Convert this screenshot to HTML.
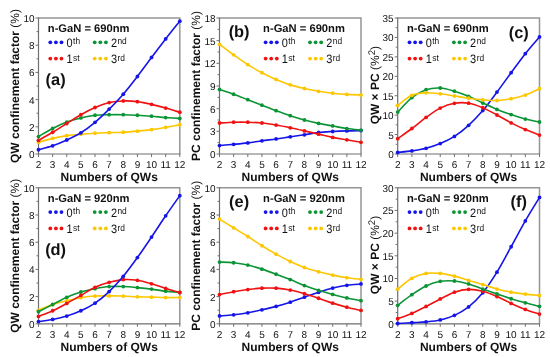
<!DOCTYPE html>
<html><head><meta charset="utf-8"><style>
html,body{margin:0;padding:0;background:#fff;}
body{width:550px;height:357px;overflow:hidden;}
svg{display:block;filter:blur(0.3px);}
text{font-family:"Liberation Sans",sans-serif;fill:#111111;text-rendering:geometricPrecision;}
</style></head><body>
<svg width="550" height="357" viewBox="0 0 550 357">
<rect width="550" height="357" fill="#fff"/>
<g><path d="M38.5,18H179.8V154" fill="none" stroke="#959595" stroke-width="1.5"/>
<path d="M38.5,17.4V154H180.4" fill="none" stroke="#707070" stroke-width="1.2"/>
<path d="M35.5,154H38.5M35.5,126.8H38.5M35.5,99.6H38.5M35.5,72.4H38.5M35.5,45.2H38.5M35.5,18H38.5M36.5,140.4H38.5M36.5,113.2H38.5M36.5,86H38.5M36.5,58.8H38.5M36.5,31.6H38.5M38.5,154V157M52.63,154V157M66.76,154V157M80.89,154V157M95.02,154V157M109.15,154V157M123.28,154V157M137.41,154V157M151.54,154V157M165.67,154V157M179.8,154V157" stroke="#707070" stroke-width="1" fill="none"/>
<text x="34.5" y="158" text-anchor="end" font-size="10">0</text>
<text x="34.5" y="130.8" text-anchor="end" font-size="10">2</text>
<text x="34.5" y="103.6" text-anchor="end" font-size="10">4</text>
<text x="34.5" y="76.4" text-anchor="end" font-size="10">6</text>
<text x="34.5" y="49.2" text-anchor="end" font-size="10">8</text>
<text x="34.5" y="22" text-anchor="end" font-size="10">10</text>
<text x="38.5" y="167.8" text-anchor="middle" font-size="10">2</text>
<text x="52.63" y="167.8" text-anchor="middle" font-size="10">3</text>
<text x="66.76" y="167.8" text-anchor="middle" font-size="10">4</text>
<text x="80.89" y="167.8" text-anchor="middle" font-size="10">5</text>
<text x="95.02" y="167.8" text-anchor="middle" font-size="10">6</text>
<text x="109.15" y="167.8" text-anchor="middle" font-size="10">7</text>
<text x="123.28" y="167.8" text-anchor="middle" font-size="10">8</text>
<text x="137.41" y="167.8" text-anchor="middle" font-size="10">9</text>
<text x="151.54" y="167.8" text-anchor="middle" font-size="10">10</text>
<text x="165.67" y="167.8" text-anchor="middle" font-size="10">11</text>
<text x="179.8" y="167.8" text-anchor="middle" font-size="10">12</text>
<text x="109.15" y="180.8" text-anchor="middle" font-size="12" font-weight="bold">Numbers of QWs</text>
<text transform="translate(19.3,86) rotate(-90)" text-anchor="middle" font-size="12"><tspan font-weight="bold">QW confinement factor </tspan><tspan>(%)</tspan></text>
<path d="M38.5,142.17 C40.86,141.53 47.92,139.45 52.63,138.36 C57.34,137.27 62.05,136.34 66.76,135.64 C71.47,134.94 76.18,134.55 80.89,134.14 C85.6,133.74 90.31,133.44 95.02,133.19 C99.73,132.94 104.44,132.81 109.15,132.65 C113.86,132.49 118.57,132.49 123.28,132.24 C127.99,131.99 132.7,131.58 137.41,131.15 C142.12,130.72 146.83,130.29 151.54,129.66 C156.25,129.02 160.96,128.16 165.67,127.34 C170.38,126.53 177.45,125.19 179.8,124.76" stroke="#fcc700" stroke-width="1.6" fill="none"/>
<circle cx="38.5" cy="142.17" r="1.9" fill="#fcc700"/>
<circle cx="52.63" cy="138.36" r="1.9" fill="#fcc700"/>
<circle cx="66.76" cy="135.64" r="1.9" fill="#fcc700"/>
<circle cx="80.89" cy="134.14" r="1.9" fill="#fcc700"/>
<circle cx="95.02" cy="133.19" r="1.9" fill="#fcc700"/>
<circle cx="109.15" cy="132.65" r="1.9" fill="#fcc700"/>
<circle cx="123.28" cy="132.24" r="1.9" fill="#fcc700"/>
<circle cx="137.41" cy="131.15" r="1.9" fill="#fcc700"/>
<circle cx="151.54" cy="129.66" r="1.9" fill="#fcc700"/>
<circle cx="165.67" cy="127.34" r="1.9" fill="#fcc700"/>
<circle cx="179.8" cy="124.76" r="1.9" fill="#fcc700"/>
<path d="M38.5,136.59 C40.86,135.23 47.92,130.86 52.63,128.43 C57.34,126.01 62.05,123.79 66.76,122.04 C71.47,120.29 76.18,119.09 80.89,117.96 C85.6,116.83 90.31,115.78 95.02,115.24 C99.73,114.7 104.44,114.79 109.15,114.7 C113.86,114.61 118.57,114.61 123.28,114.7 C127.99,114.79 132.7,114.99 137.41,115.24 C142.12,115.49 146.83,115.81 151.54,116.19 C156.25,116.58 160.96,117.17 165.67,117.55 C170.38,117.94 177.45,118.35 179.8,118.5" stroke="#0b9435" stroke-width="1.6" fill="none"/>
<circle cx="38.5" cy="136.59" r="1.9" fill="#0b9435"/>
<circle cx="52.63" cy="128.43" r="1.9" fill="#0b9435"/>
<circle cx="66.76" cy="122.04" r="1.9" fill="#0b9435"/>
<circle cx="80.89" cy="117.96" r="1.9" fill="#0b9435"/>
<circle cx="95.02" cy="115.24" r="1.9" fill="#0b9435"/>
<circle cx="109.15" cy="114.7" r="1.9" fill="#0b9435"/>
<circle cx="123.28" cy="114.7" r="1.9" fill="#0b9435"/>
<circle cx="137.41" cy="115.24" r="1.9" fill="#0b9435"/>
<circle cx="151.54" cy="116.19" r="1.9" fill="#0b9435"/>
<circle cx="165.67" cy="117.55" r="1.9" fill="#0b9435"/>
<circle cx="179.8" cy="118.5" r="1.9" fill="#0b9435"/>
<path d="M38.5,140.4 C40.86,139.04 47.92,135.05 52.63,132.24 C57.34,129.43 62.05,126.46 66.76,123.54 C71.47,120.61 76.18,117.37 80.89,114.7 C85.6,112.02 90.31,109.51 95.02,107.49 C99.73,105.47 104.44,103.68 109.15,102.59 C113.86,101.5 118.57,101.12 123.28,100.96 C127.99,100.8 132.7,101.07 137.41,101.64 C142.12,102.21 146.83,103.29 151.54,104.36 C156.25,105.43 160.96,106.72 165.67,108.03 C170.38,109.35 177.45,111.55 179.8,112.25" stroke="#f01212" stroke-width="1.6" fill="none"/>
<circle cx="38.5" cy="140.4" r="1.9" fill="#f01212"/>
<circle cx="52.63" cy="132.24" r="1.9" fill="#f01212"/>
<circle cx="66.76" cy="123.54" r="1.9" fill="#f01212"/>
<circle cx="80.89" cy="114.7" r="1.9" fill="#f01212"/>
<circle cx="95.02" cy="107.49" r="1.9" fill="#f01212"/>
<circle cx="109.15" cy="102.59" r="1.9" fill="#f01212"/>
<circle cx="123.28" cy="100.96" r="1.9" fill="#f01212"/>
<circle cx="137.41" cy="101.64" r="1.9" fill="#f01212"/>
<circle cx="151.54" cy="104.36" r="1.9" fill="#f01212"/>
<circle cx="165.67" cy="108.03" r="1.9" fill="#f01212"/>
<circle cx="179.8" cy="112.25" r="1.9" fill="#f01212"/>
<path d="M38.5,149.65 C40.86,149.01 47.92,147.45 52.63,145.84 C57.34,144.23 62.05,142.17 66.76,139.99 C71.47,137.82 76.18,135.73 80.89,132.78 C85.6,129.84 90.31,126.26 95.02,122.31 C99.73,118.37 104.44,113.81 109.15,109.12 C113.86,104.43 118.57,99.6 123.28,94.16 C127.99,88.72 132.7,82.6 137.41,76.48 C142.12,70.36 146.83,63.7 151.54,57.44 C156.25,51.18 160.96,45 165.67,38.94 C170.38,32.89 177.45,24.1 179.8,21.13" stroke="#1515e8" stroke-width="1.6" fill="none"/>
<circle cx="38.5" cy="149.65" r="1.9" fill="#1515e8"/>
<circle cx="52.63" cy="145.84" r="1.9" fill="#1515e8"/>
<circle cx="66.76" cy="139.99" r="1.9" fill="#1515e8"/>
<circle cx="80.89" cy="132.78" r="1.9" fill="#1515e8"/>
<circle cx="95.02" cy="122.31" r="1.9" fill="#1515e8"/>
<circle cx="109.15" cy="109.12" r="1.9" fill="#1515e8"/>
<circle cx="123.28" cy="94.16" r="1.9" fill="#1515e8"/>
<circle cx="137.41" cy="76.48" r="1.9" fill="#1515e8"/>
<circle cx="151.54" cy="57.44" r="1.9" fill="#1515e8"/>
<circle cx="165.67" cy="38.94" r="1.9" fill="#1515e8"/>
<circle cx="179.8" cy="21.13" r="1.9" fill="#1515e8"/>
<text x="47.8" y="32" font-size="11.2" font-weight="bold">n-GaN = 690nm</text>
<circle cx="50.3" cy="42.3" r="1.9" fill="#1515e8"/>
<circle cx="55.9" cy="42.3" r="1.9" fill="#1515e8"/>
<circle cx="61.5" cy="42.3" r="1.9" fill="#1515e8"/>
<text transform="translate(66.5,46.8) scale(0.9,1)" font-size="12.2">0<tspan font-size="9.3" dx="0.5" dy="-2.4">th</tspan></text>
<circle cx="94.7" cy="42.3" r="1.9" fill="#0b9435"/>
<circle cx="100.3" cy="42.3" r="1.9" fill="#0b9435"/>
<circle cx="105.9" cy="42.3" r="1.9" fill="#0b9435"/>
<text transform="translate(110.9,46.8) scale(0.9,1)" font-size="12.2">2<tspan font-size="9.3" dx="0.5" dy="-2.4">nd</tspan></text>
<circle cx="50.3" cy="58.6" r="1.9" fill="#f01212"/>
<circle cx="55.9" cy="58.6" r="1.9" fill="#f01212"/>
<circle cx="61.5" cy="58.6" r="1.9" fill="#f01212"/>
<text transform="translate(66.5,63.1) scale(0.9,1)" font-size="12.2">1<tspan font-size="9.3" dx="0.5" dy="-2.4">st</tspan></text>
<circle cx="94.7" cy="58.6" r="1.9" fill="#fcc700"/>
<circle cx="100.3" cy="58.6" r="1.9" fill="#fcc700"/>
<circle cx="105.9" cy="58.6" r="1.9" fill="#fcc700"/>
<text transform="translate(110.9,63.1) scale(0.9,1)" font-size="12.2">3<tspan font-size="9.3" dx="0.5" dy="-2.4">rd</tspan></text>
<text x="55.6" y="84.7" text-anchor="middle" font-size="16.4" font-weight="bold">(a)</text></g>
<g><path d="M219.5,18H361V154" fill="none" stroke="#959595" stroke-width="1.5"/>
<path d="M219.5,17.4V154H361.6" fill="none" stroke="#707070" stroke-width="1.2"/>
<path d="M216.5,154H219.5M216.5,131.33H219.5M216.5,108.67H219.5M216.5,86H219.5M216.5,63.33H219.5M216.5,40.67H219.5M216.5,18H219.5M217.5,142.67H219.5M217.5,120H219.5M217.5,97.33H219.5M217.5,74.67H219.5M217.5,52H219.5M217.5,29.33H219.5M219.5,154V157M233.65,154V157M247.8,154V157M261.95,154V157M276.1,154V157M290.25,154V157M304.4,154V157M318.55,154V157M332.7,154V157M346.85,154V157M361,154V157" stroke="#707070" stroke-width="1" fill="none"/>
<text x="215.5" y="158" text-anchor="end" font-size="10">0</text>
<text x="215.5" y="135.33" text-anchor="end" font-size="10">3</text>
<text x="215.5" y="112.67" text-anchor="end" font-size="10">6</text>
<text x="215.5" y="90" text-anchor="end" font-size="10">9</text>
<text x="215.5" y="67.33" text-anchor="end" font-size="10">12</text>
<text x="215.5" y="44.67" text-anchor="end" font-size="10">15</text>
<text x="215.5" y="22" text-anchor="end" font-size="10">18</text>
<text x="219.5" y="167.8" text-anchor="middle" font-size="10">2</text>
<text x="233.65" y="167.8" text-anchor="middle" font-size="10">3</text>
<text x="247.8" y="167.8" text-anchor="middle" font-size="10">4</text>
<text x="261.95" y="167.8" text-anchor="middle" font-size="10">5</text>
<text x="276.1" y="167.8" text-anchor="middle" font-size="10">6</text>
<text x="290.25" y="167.8" text-anchor="middle" font-size="10">7</text>
<text x="304.4" y="167.8" text-anchor="middle" font-size="10">8</text>
<text x="318.55" y="167.8" text-anchor="middle" font-size="10">9</text>
<text x="332.7" y="167.8" text-anchor="middle" font-size="10">10</text>
<text x="346.85" y="167.8" text-anchor="middle" font-size="10">11</text>
<text x="361" y="167.8" text-anchor="middle" font-size="10">12</text>
<text x="290.25" y="180.8" text-anchor="middle" font-size="12" font-weight="bold">Numbers of QWs</text>
<text transform="translate(200.3,86) rotate(-90)" text-anchor="middle" font-size="12"><tspan font-weight="bold">PC confinement factor </tspan><tspan>(%)</tspan></text>
<path d="M219.5,145.54 C221.86,145.34 228.93,144.77 233.65,144.33 C238.37,143.89 243.08,143.49 247.8,142.89 C252.52,142.3 257.23,141.43 261.95,140.78 C266.67,140.12 271.38,139.62 276.1,138.96 C280.82,138.31 285.53,137.54 290.25,136.85 C294.97,136.16 299.68,135.54 304.4,134.81 C309.12,134.08 313.83,133.02 318.55,132.47 C323.27,131.91 327.98,131.75 332.7,131.48 C337.42,131.22 342.13,131.03 346.85,130.88 C351.57,130.73 358.64,130.63 361,130.58" stroke="#1515e8" stroke-width="1.6" fill="none"/>
<circle cx="219.5" cy="145.54" r="1.9" fill="#1515e8"/>
<circle cx="233.65" cy="144.33" r="1.9" fill="#1515e8"/>
<circle cx="247.8" cy="142.89" r="1.9" fill="#1515e8"/>
<circle cx="261.95" cy="140.78" r="1.9" fill="#1515e8"/>
<circle cx="276.1" cy="138.96" r="1.9" fill="#1515e8"/>
<circle cx="290.25" cy="136.85" r="1.9" fill="#1515e8"/>
<circle cx="304.4" cy="134.81" r="1.9" fill="#1515e8"/>
<circle cx="318.55" cy="132.47" r="1.9" fill="#1515e8"/>
<circle cx="332.7" cy="131.48" r="1.9" fill="#1515e8"/>
<circle cx="346.85" cy="130.88" r="1.9" fill="#1515e8"/>
<circle cx="361" cy="130.58" r="1.9" fill="#1515e8"/>
<path d="M219.5,123.02 C221.86,122.88 228.93,122.33 233.65,122.19 C238.37,122.05 243.08,122.05 247.8,122.19 C252.52,122.33 257.23,122.54 261.95,123.02 C266.67,123.5 271.38,124.27 276.1,125.06 C280.82,125.86 285.53,126.81 290.25,127.78 C294.97,128.75 299.68,129.82 304.4,130.88 C309.12,131.94 313.83,133.05 318.55,134.13 C323.27,135.21 327.98,136.43 332.7,137.38 C337.42,138.32 342.13,138.98 346.85,139.8 C351.57,140.61 358.64,141.87 361,142.29" stroke="#f01212" stroke-width="1.6" fill="none"/>
<circle cx="219.5" cy="123.02" r="1.9" fill="#f01212"/>
<circle cx="233.65" cy="122.19" r="1.9" fill="#f01212"/>
<circle cx="247.8" cy="122.19" r="1.9" fill="#f01212"/>
<circle cx="261.95" cy="123.02" r="1.9" fill="#f01212"/>
<circle cx="276.1" cy="125.06" r="1.9" fill="#f01212"/>
<circle cx="290.25" cy="127.78" r="1.9" fill="#f01212"/>
<circle cx="304.4" cy="130.88" r="1.9" fill="#f01212"/>
<circle cx="318.55" cy="134.13" r="1.9" fill="#f01212"/>
<circle cx="332.7" cy="137.38" r="1.9" fill="#f01212"/>
<circle cx="346.85" cy="139.8" r="1.9" fill="#f01212"/>
<circle cx="361" cy="142.29" r="1.9" fill="#f01212"/>
<path d="M219.5,89.48 C221.86,90.27 228.93,92.54 233.65,94.24 C238.37,95.94 243.08,97.85 247.8,99.68 C252.52,101.5 257.23,103.37 261.95,105.19 C266.67,107.02 271.38,108.88 276.1,110.63 C280.82,112.38 285.53,114.13 290.25,115.69 C294.97,117.25 299.68,118.72 304.4,120 C309.12,121.28 313.83,122.41 318.55,123.4 C323.27,124.39 327.98,125.11 332.7,125.97 C337.42,126.83 342.13,127.85 346.85,128.54 C351.57,129.23 358.64,129.86 361,130.12" stroke="#0b9435" stroke-width="1.6" fill="none"/>
<circle cx="219.5" cy="89.48" r="1.9" fill="#0b9435"/>
<circle cx="233.65" cy="94.24" r="1.9" fill="#0b9435"/>
<circle cx="247.8" cy="99.68" r="1.9" fill="#0b9435"/>
<circle cx="261.95" cy="105.19" r="1.9" fill="#0b9435"/>
<circle cx="276.1" cy="110.63" r="1.9" fill="#0b9435"/>
<circle cx="290.25" cy="115.69" r="1.9" fill="#0b9435"/>
<circle cx="304.4" cy="120" r="1.9" fill="#0b9435"/>
<circle cx="318.55" cy="123.4" r="1.9" fill="#0b9435"/>
<circle cx="332.7" cy="125.97" r="1.9" fill="#0b9435"/>
<circle cx="346.85" cy="128.54" r="1.9" fill="#0b9435"/>
<circle cx="361" cy="130.12" r="1.9" fill="#0b9435"/>
<path d="M219.5,44.29 C221.86,46.06 228.93,51.47 233.65,54.87 C238.37,58.27 243.08,61.72 247.8,64.69 C252.52,67.67 257.23,70.25 261.95,72.7 C266.67,75.16 271.38,77.4 276.1,79.43 C280.82,81.45 285.53,83.36 290.25,84.87 C294.97,86.38 299.68,87.42 304.4,88.49 C309.12,89.56 313.83,90.51 318.55,91.29 C323.27,92.07 327.98,92.66 332.7,93.18 C337.42,93.69 342.13,94.08 346.85,94.39 C351.57,94.69 358.64,94.89 361,94.99" stroke="#fcc700" stroke-width="1.6" fill="none"/>
<circle cx="219.5" cy="44.29" r="1.9" fill="#fcc700"/>
<circle cx="233.65" cy="54.87" r="1.9" fill="#fcc700"/>
<circle cx="247.8" cy="64.69" r="1.9" fill="#fcc700"/>
<circle cx="261.95" cy="72.7" r="1.9" fill="#fcc700"/>
<circle cx="276.1" cy="79.43" r="1.9" fill="#fcc700"/>
<circle cx="290.25" cy="84.87" r="1.9" fill="#fcc700"/>
<circle cx="304.4" cy="88.49" r="1.9" fill="#fcc700"/>
<circle cx="318.55" cy="91.29" r="1.9" fill="#fcc700"/>
<circle cx="332.7" cy="93.18" r="1.9" fill="#fcc700"/>
<circle cx="346.85" cy="94.39" r="1.9" fill="#fcc700"/>
<circle cx="361" cy="94.99" r="1.9" fill="#fcc700"/>
<text x="263.1" y="32" font-size="11.2" font-weight="bold">n-GaN = 690nm</text>
<circle cx="265.6" cy="42.3" r="1.9" fill="#1515e8"/>
<circle cx="271.2" cy="42.3" r="1.9" fill="#1515e8"/>
<circle cx="276.8" cy="42.3" r="1.9" fill="#1515e8"/>
<text transform="translate(281.8,46.8) scale(0.9,1)" font-size="12.2">0<tspan font-size="9.3" dx="0.5" dy="-2.4">th</tspan></text>
<circle cx="310" cy="42.3" r="1.9" fill="#0b9435"/>
<circle cx="315.6" cy="42.3" r="1.9" fill="#0b9435"/>
<circle cx="321.2" cy="42.3" r="1.9" fill="#0b9435"/>
<text transform="translate(326.2,46.8) scale(0.9,1)" font-size="12.2">2<tspan font-size="9.3" dx="0.5" dy="-2.4">nd</tspan></text>
<circle cx="265.6" cy="58.6" r="1.9" fill="#f01212"/>
<circle cx="271.2" cy="58.6" r="1.9" fill="#f01212"/>
<circle cx="276.8" cy="58.6" r="1.9" fill="#f01212"/>
<text transform="translate(281.8,63.1) scale(0.9,1)" font-size="12.2">1<tspan font-size="9.3" dx="0.5" dy="-2.4">st</tspan></text>
<circle cx="310" cy="58.6" r="1.9" fill="#fcc700"/>
<circle cx="315.6" cy="58.6" r="1.9" fill="#fcc700"/>
<circle cx="321.2" cy="58.6" r="1.9" fill="#fcc700"/>
<text transform="translate(326.2,63.1) scale(0.9,1)" font-size="12.2">3<tspan font-size="9.3" dx="0.5" dy="-2.4">rd</tspan></text>
<text x="239.1" y="37.2" text-anchor="middle" font-size="16.4" font-weight="bold">(b)</text></g>
<g><path d="M397.7,18H539.5V154" fill="none" stroke="#959595" stroke-width="1.5"/>
<path d="M397.7,17.4V154H540.1" fill="none" stroke="#707070" stroke-width="1.2"/>
<path d="M394.7,154H397.7M394.7,134.57H397.7M394.7,115.14H397.7M394.7,95.71H397.7M394.7,76.29H397.7M394.7,56.86H397.7M394.7,37.43H397.7M394.7,18H397.7M395.7,144.29H397.7M395.7,124.86H397.7M395.7,105.43H397.7M395.7,86H397.7M395.7,66.57H397.7M395.7,47.14H397.7M395.7,27.71H397.7M397.7,154V157M411.88,154V157M426.06,154V157M440.24,154V157M454.42,154V157M468.6,154V157M482.78,154V157M496.96,154V157M511.14,154V157M525.32,154V157M539.5,154V157" stroke="#707070" stroke-width="1" fill="none"/>
<text x="393.7" y="158" text-anchor="end" font-size="10">0</text>
<text x="393.7" y="138.57" text-anchor="end" font-size="10">5</text>
<text x="393.7" y="119.14" text-anchor="end" font-size="10">10</text>
<text x="393.7" y="99.71" text-anchor="end" font-size="10">15</text>
<text x="393.7" y="80.29" text-anchor="end" font-size="10">20</text>
<text x="393.7" y="60.86" text-anchor="end" font-size="10">25</text>
<text x="393.7" y="41.43" text-anchor="end" font-size="10">30</text>
<text x="393.7" y="22" text-anchor="end" font-size="10">35</text>
<text x="397.7" y="167.8" text-anchor="middle" font-size="10">2</text>
<text x="411.88" y="167.8" text-anchor="middle" font-size="10">3</text>
<text x="426.06" y="167.8" text-anchor="middle" font-size="10">4</text>
<text x="440.24" y="167.8" text-anchor="middle" font-size="10">5</text>
<text x="454.42" y="167.8" text-anchor="middle" font-size="10">6</text>
<text x="468.6" y="167.8" text-anchor="middle" font-size="10">7</text>
<text x="482.78" y="167.8" text-anchor="middle" font-size="10">8</text>
<text x="496.96" y="167.8" text-anchor="middle" font-size="10">9</text>
<text x="511.14" y="167.8" text-anchor="middle" font-size="10">10</text>
<text x="525.32" y="167.8" text-anchor="middle" font-size="10">11</text>
<text x="539.5" y="167.8" text-anchor="middle" font-size="10">12</text>
<text x="468.6" y="180.8" text-anchor="middle" font-size="12" font-weight="bold">Numbers of QWs</text>
<text transform="translate(378.5,85.2) rotate(-90)" text-anchor="middle" font-size="12"><tspan font-weight="bold">QW × PC </tspan><tspan>(%</tspan><tspan font-size="9.6" dy="-3.6">2</tspan><tspan dy="3.6">)</tspan></text>
<path d="M397.7,152.41 C400.06,152.15 407.15,151.58 411.88,150.89 C416.61,150.2 421.33,149.51 426.06,148.29 C430.79,147.07 435.51,145.57 440.24,143.59 C444.97,141.6 449.69,139.44 454.42,136.4 C459.15,133.35 463.87,129.62 468.6,125.32 C473.33,121.02 478.05,116.13 482.78,110.6 C487.51,105.06 492.23,98.41 496.96,92.1 C501.69,85.79 506.41,79.11 511.14,72.71 C515.87,66.31 520.59,59.67 525.32,53.71 C530.05,47.75 537.14,39.72 539.5,36.92" stroke="#1515e8" stroke-width="1.6" fill="none"/>
<circle cx="397.7" cy="152.41" r="1.9" fill="#1515e8"/>
<circle cx="411.88" cy="150.89" r="1.9" fill="#1515e8"/>
<circle cx="426.06" cy="148.29" r="1.9" fill="#1515e8"/>
<circle cx="440.24" cy="143.59" r="1.9" fill="#1515e8"/>
<circle cx="454.42" cy="136.4" r="1.9" fill="#1515e8"/>
<circle cx="468.6" cy="125.32" r="1.9" fill="#1515e8"/>
<circle cx="482.78" cy="110.6" r="1.9" fill="#1515e8"/>
<circle cx="496.96" cy="92.1" r="1.9" fill="#1515e8"/>
<circle cx="511.14" cy="72.71" r="1.9" fill="#1515e8"/>
<circle cx="525.32" cy="53.71" r="1.9" fill="#1515e8"/>
<circle cx="539.5" cy="36.92" r="1.9" fill="#1515e8"/>
<path d="M397.7,138.69 C400.06,136.99 407.15,132.06 411.88,128.51 C416.61,124.96 421.33,120.8 426.06,117.4 C430.79,114 435.51,110.46 440.24,108.11 C444.97,105.76 449.69,104.11 454.42,103.29 C459.15,102.48 463.87,102.48 468.6,103.21 C473.33,103.95 478.05,105.76 482.78,107.72 C487.51,109.68 492.23,112.46 496.96,114.99 C501.69,117.52 506.41,120.48 511.14,122.91 C515.87,125.35 520.59,127.56 525.32,129.6 C530.05,131.63 537.14,134.2 539.5,135.12" stroke="#f01212" stroke-width="1.6" fill="none"/>
<circle cx="397.7" cy="138.69" r="1.9" fill="#f01212"/>
<circle cx="411.88" cy="128.51" r="1.9" fill="#f01212"/>
<circle cx="426.06" cy="117.4" r="1.9" fill="#f01212"/>
<circle cx="440.24" cy="108.11" r="1.9" fill="#f01212"/>
<circle cx="454.42" cy="103.29" r="1.9" fill="#f01212"/>
<circle cx="468.6" cy="103.21" r="1.9" fill="#f01212"/>
<circle cx="482.78" cy="107.72" r="1.9" fill="#f01212"/>
<circle cx="496.96" cy="114.99" r="1.9" fill="#f01212"/>
<circle cx="511.14" cy="122.91" r="1.9" fill="#f01212"/>
<circle cx="525.32" cy="129.6" r="1.9" fill="#f01212"/>
<circle cx="539.5" cy="135.12" r="1.9" fill="#f01212"/>
<path d="M397.7,112.11 C400.06,109.7 407.15,101.39 411.88,97.66 C416.61,93.92 421.33,91.3 426.06,89.69 C430.79,88.09 435.51,87.77 440.24,88.02 C444.97,88.27 449.69,89.82 454.42,91.21 C459.15,92.59 463.87,94.37 468.6,96.34 C473.33,98.3 478.05,100.84 482.78,103.02 C487.51,105.2 492.23,107.46 496.96,109.39 C501.69,111.32 506.41,112.99 511.14,114.6 C515.87,116.2 520.59,117.79 525.32,119.03 C530.05,120.27 537.14,121.52 539.5,122.02" stroke="#0b9435" stroke-width="1.6" fill="none"/>
<circle cx="397.7" cy="112.11" r="1.9" fill="#0b9435"/>
<circle cx="411.88" cy="97.66" r="1.9" fill="#0b9435"/>
<circle cx="426.06" cy="89.69" r="1.9" fill="#0b9435"/>
<circle cx="440.24" cy="88.02" r="1.9" fill="#0b9435"/>
<circle cx="454.42" cy="91.21" r="1.9" fill="#0b9435"/>
<circle cx="468.6" cy="96.34" r="1.9" fill="#0b9435"/>
<circle cx="482.78" cy="103.02" r="1.9" fill="#0b9435"/>
<circle cx="496.96" cy="109.39" r="1.9" fill="#0b9435"/>
<circle cx="511.14" cy="114.6" r="1.9" fill="#0b9435"/>
<circle cx="525.32" cy="119.03" r="1.9" fill="#0b9435"/>
<circle cx="539.5" cy="122.02" r="1.9" fill="#0b9435"/>
<path d="M397.7,105.47 C400.06,103.78 407.15,97.44 411.88,95.33 C416.61,93.21 421.33,93.05 426.06,92.8 C430.79,92.55 435.51,93.28 440.24,93.81 C444.97,94.34 449.69,95.25 454.42,95.99 C459.15,96.72 463.87,97.61 468.6,98.24 C473.33,98.87 478.05,99.42 482.78,99.79 C487.51,100.17 492.23,100.68 496.96,100.49 C501.69,100.31 506.41,99.61 511.14,98.71 C515.87,97.81 520.59,96.76 525.32,95.09 C530.05,93.43 537.14,89.78 539.5,88.72" stroke="#fcc700" stroke-width="1.6" fill="none"/>
<circle cx="397.7" cy="105.47" r="1.9" fill="#fcc700"/>
<circle cx="411.88" cy="95.33" r="1.9" fill="#fcc700"/>
<circle cx="426.06" cy="92.8" r="1.9" fill="#fcc700"/>
<circle cx="440.24" cy="93.81" r="1.9" fill="#fcc700"/>
<circle cx="454.42" cy="95.99" r="1.9" fill="#fcc700"/>
<circle cx="468.6" cy="98.24" r="1.9" fill="#fcc700"/>
<circle cx="482.78" cy="99.79" r="1.9" fill="#fcc700"/>
<circle cx="496.96" cy="100.49" r="1.9" fill="#fcc700"/>
<circle cx="511.14" cy="98.71" r="1.9" fill="#fcc700"/>
<circle cx="525.32" cy="95.09" r="1.9" fill="#fcc700"/>
<circle cx="539.5" cy="88.72" r="1.9" fill="#fcc700"/>
<text x="407" y="32" font-size="11.2" font-weight="bold">n-GaN = 690nm</text>
<circle cx="409.5" cy="42.3" r="1.9" fill="#1515e8"/>
<circle cx="415.1" cy="42.3" r="1.9" fill="#1515e8"/>
<circle cx="420.7" cy="42.3" r="1.9" fill="#1515e8"/>
<text transform="translate(425.7,46.8) scale(0.9,1)" font-size="12.2">0<tspan font-size="9.3" dx="0.5" dy="-2.4">th</tspan></text>
<circle cx="453.9" cy="42.3" r="1.9" fill="#0b9435"/>
<circle cx="459.5" cy="42.3" r="1.9" fill="#0b9435"/>
<circle cx="465.1" cy="42.3" r="1.9" fill="#0b9435"/>
<text transform="translate(470.1,46.8) scale(0.9,1)" font-size="12.2">2<tspan font-size="9.3" dx="0.5" dy="-2.4">nd</tspan></text>
<circle cx="409.5" cy="58.6" r="1.9" fill="#f01212"/>
<circle cx="415.1" cy="58.6" r="1.9" fill="#f01212"/>
<circle cx="420.7" cy="58.6" r="1.9" fill="#f01212"/>
<text transform="translate(425.7,63.1) scale(0.9,1)" font-size="12.2">1<tspan font-size="9.3" dx="0.5" dy="-2.4">st</tspan></text>
<circle cx="453.9" cy="58.6" r="1.9" fill="#fcc700"/>
<circle cx="459.5" cy="58.6" r="1.9" fill="#fcc700"/>
<circle cx="465.1" cy="58.6" r="1.9" fill="#fcc700"/>
<text transform="translate(470.1,63.1) scale(0.9,1)" font-size="12.2">3<tspan font-size="9.3" dx="0.5" dy="-2.4">rd</tspan></text>
<text x="518.7" y="37.5" text-anchor="middle" font-size="16.4" font-weight="bold">(c)</text></g>
<g><path d="M38.5,187.8H179.8V323.8" fill="none" stroke="#959595" stroke-width="1.5"/>
<path d="M38.5,187.2V323.8H180.4" fill="none" stroke="#707070" stroke-width="1.2"/>
<path d="M35.5,323.8H38.5M35.5,296.6H38.5M35.5,269.4H38.5M35.5,242.2H38.5M35.5,215H38.5M35.5,187.8H38.5M36.5,310.2H38.5M36.5,283H38.5M36.5,255.8H38.5M36.5,228.6H38.5M36.5,201.4H38.5M38.5,323.8V326.8M52.63,323.8V326.8M66.76,323.8V326.8M80.89,323.8V326.8M95.02,323.8V326.8M109.15,323.8V326.8M123.28,323.8V326.8M137.41,323.8V326.8M151.54,323.8V326.8M165.67,323.8V326.8M179.8,323.8V326.8" stroke="#707070" stroke-width="1" fill="none"/>
<text x="34.5" y="327.8" text-anchor="end" font-size="10">0</text>
<text x="34.5" y="300.6" text-anchor="end" font-size="10">2</text>
<text x="34.5" y="273.4" text-anchor="end" font-size="10">4</text>
<text x="34.5" y="246.2" text-anchor="end" font-size="10">6</text>
<text x="34.5" y="219" text-anchor="end" font-size="10">8</text>
<text x="34.5" y="191.8" text-anchor="end" font-size="10">10</text>
<text x="38.5" y="337.6" text-anchor="middle" font-size="10">2</text>
<text x="52.63" y="337.6" text-anchor="middle" font-size="10">3</text>
<text x="66.76" y="337.6" text-anchor="middle" font-size="10">4</text>
<text x="80.89" y="337.6" text-anchor="middle" font-size="10">5</text>
<text x="95.02" y="337.6" text-anchor="middle" font-size="10">6</text>
<text x="109.15" y="337.6" text-anchor="middle" font-size="10">7</text>
<text x="123.28" y="337.6" text-anchor="middle" font-size="10">8</text>
<text x="137.41" y="337.6" text-anchor="middle" font-size="10">9</text>
<text x="151.54" y="337.6" text-anchor="middle" font-size="10">10</text>
<text x="165.67" y="337.6" text-anchor="middle" font-size="10">11</text>
<text x="179.8" y="337.6" text-anchor="middle" font-size="10">12</text>
<text x="109.15" y="350.6" text-anchor="middle" font-size="12" font-weight="bold">Numbers of QWs</text>
<text transform="translate(19.3,255.8) rotate(-90)" text-anchor="middle" font-size="12"><tspan font-weight="bold">QW confinement factor </tspan><tspan>(%)</tspan></text>
<path d="M38.5,310.2 C40.86,309.27 47.92,306.21 52.63,304.62 C57.34,303.04 62.05,301.84 66.76,300.68 C71.47,299.52 76.18,298.46 80.89,297.69 C85.6,296.92 90.31,296.35 95.02,296.06 C99.73,295.76 104.44,295.92 109.15,295.92 C113.86,295.92 118.57,295.9 123.28,296.06 C127.99,296.21 132.7,296.69 137.41,296.87 C142.12,297.05 146.83,297.03 151.54,297.14 C156.25,297.26 160.96,297.48 165.67,297.55 C170.38,297.62 177.45,297.55 179.8,297.55" stroke="#fcc700" stroke-width="1.6" fill="none"/>
<circle cx="38.5" cy="310.2" r="1.9" fill="#fcc700"/>
<circle cx="52.63" cy="304.62" r="1.9" fill="#fcc700"/>
<circle cx="66.76" cy="300.68" r="1.9" fill="#fcc700"/>
<circle cx="80.89" cy="297.69" r="1.9" fill="#fcc700"/>
<circle cx="95.02" cy="296.06" r="1.9" fill="#fcc700"/>
<circle cx="109.15" cy="295.92" r="1.9" fill="#fcc700"/>
<circle cx="123.28" cy="296.06" r="1.9" fill="#fcc700"/>
<circle cx="137.41" cy="296.87" r="1.9" fill="#fcc700"/>
<circle cx="151.54" cy="297.14" r="1.9" fill="#fcc700"/>
<circle cx="165.67" cy="297.55" r="1.9" fill="#fcc700"/>
<circle cx="179.8" cy="297.55" r="1.9" fill="#fcc700"/>
<path d="M38.5,311.7 C40.86,310.49 47.92,306.89 52.63,304.49 C57.34,302.09 62.05,299.37 66.76,297.28 C71.47,295.19 76.18,293.4 80.89,291.98 C85.6,290.55 90.31,289.62 95.02,288.71 C99.73,287.81 104.44,286.9 109.15,286.54 C113.86,286.17 118.57,286.35 123.28,286.54 C127.99,286.72 132.7,287.19 137.41,287.62 C142.12,288.05 146.83,288.53 151.54,289.12 C156.25,289.71 160.96,290.59 165.67,291.16 C170.38,291.73 177.45,292.29 179.8,292.52" stroke="#0b9435" stroke-width="1.6" fill="none"/>
<circle cx="38.5" cy="311.7" r="1.9" fill="#0b9435"/>
<circle cx="52.63" cy="304.49" r="1.9" fill="#0b9435"/>
<circle cx="66.76" cy="297.28" r="1.9" fill="#0b9435"/>
<circle cx="80.89" cy="291.98" r="1.9" fill="#0b9435"/>
<circle cx="95.02" cy="288.71" r="1.9" fill="#0b9435"/>
<circle cx="109.15" cy="286.54" r="1.9" fill="#0b9435"/>
<circle cx="123.28" cy="286.54" r="1.9" fill="#0b9435"/>
<circle cx="137.41" cy="287.62" r="1.9" fill="#0b9435"/>
<circle cx="151.54" cy="289.12" r="1.9" fill="#0b9435"/>
<circle cx="165.67" cy="291.16" r="1.9" fill="#0b9435"/>
<circle cx="179.8" cy="292.52" r="1.9" fill="#0b9435"/>
<path d="M38.5,316.46 C40.86,315.5 47.92,312.92 52.63,310.74 C57.34,308.57 62.05,305.96 66.76,303.4 C71.47,300.84 76.18,298.05 80.89,295.38 C85.6,292.7 90.31,289.53 95.02,287.35 C99.73,285.18 104.44,283.61 109.15,282.32 C113.86,281.03 118.57,279.94 123.28,279.6 C127.99,279.26 132.7,279.58 137.41,280.28 C142.12,280.98 146.83,282.46 151.54,283.82 C156.25,285.18 160.96,286.99 165.67,288.44 C170.38,289.89 177.45,291.84 179.8,292.52" stroke="#f01212" stroke-width="1.6" fill="none"/>
<circle cx="38.5" cy="316.46" r="1.9" fill="#f01212"/>
<circle cx="52.63" cy="310.74" r="1.9" fill="#f01212"/>
<circle cx="66.76" cy="303.4" r="1.9" fill="#f01212"/>
<circle cx="80.89" cy="295.38" r="1.9" fill="#f01212"/>
<circle cx="95.02" cy="287.35" r="1.9" fill="#f01212"/>
<circle cx="109.15" cy="282.32" r="1.9" fill="#f01212"/>
<circle cx="123.28" cy="279.6" r="1.9" fill="#f01212"/>
<circle cx="137.41" cy="280.28" r="1.9" fill="#f01212"/>
<circle cx="151.54" cy="283.82" r="1.9" fill="#f01212"/>
<circle cx="165.67" cy="288.44" r="1.9" fill="#f01212"/>
<circle cx="179.8" cy="292.52" r="1.9" fill="#f01212"/>
<path d="M38.5,321.62 C40.86,321.26 47.92,320.38 52.63,319.45 C57.34,318.52 62.05,317.5 66.76,316.05 C71.47,314.6 76.18,312.9 80.89,310.74 C85.6,308.59 90.31,306.32 95.02,303.13 C99.73,299.93 104.44,296.03 109.15,291.57 C113.86,287.1 118.57,282 123.28,276.34 C127.99,270.67 132.7,264.12 137.41,257.57 C142.12,251.02 146.83,243.99 151.54,237.03 C156.25,230.07 160.96,222.71 165.67,215.82 C170.38,208.93 177.45,199.04 179.8,195.69" stroke="#1515e8" stroke-width="1.6" fill="none"/>
<circle cx="38.5" cy="321.62" r="1.9" fill="#1515e8"/>
<circle cx="52.63" cy="319.45" r="1.9" fill="#1515e8"/>
<circle cx="66.76" cy="316.05" r="1.9" fill="#1515e8"/>
<circle cx="80.89" cy="310.74" r="1.9" fill="#1515e8"/>
<circle cx="95.02" cy="303.13" r="1.9" fill="#1515e8"/>
<circle cx="109.15" cy="291.57" r="1.9" fill="#1515e8"/>
<circle cx="123.28" cy="276.34" r="1.9" fill="#1515e8"/>
<circle cx="137.41" cy="257.57" r="1.9" fill="#1515e8"/>
<circle cx="151.54" cy="237.03" r="1.9" fill="#1515e8"/>
<circle cx="165.67" cy="215.82" r="1.9" fill="#1515e8"/>
<circle cx="179.8" cy="195.69" r="1.9" fill="#1515e8"/>
<text x="47.8" y="201.8" font-size="11.2" font-weight="bold">n-GaN = 920nm</text>
<circle cx="50.3" cy="212.1" r="1.9" fill="#1515e8"/>
<circle cx="55.9" cy="212.1" r="1.9" fill="#1515e8"/>
<circle cx="61.5" cy="212.1" r="1.9" fill="#1515e8"/>
<text transform="translate(66.5,216.6) scale(0.9,1)" font-size="12.2">0<tspan font-size="9.3" dx="0.5" dy="-2.4">th</tspan></text>
<circle cx="94.7" cy="212.1" r="1.9" fill="#0b9435"/>
<circle cx="100.3" cy="212.1" r="1.9" fill="#0b9435"/>
<circle cx="105.9" cy="212.1" r="1.9" fill="#0b9435"/>
<text transform="translate(110.9,216.6) scale(0.9,1)" font-size="12.2">2<tspan font-size="9.3" dx="0.5" dy="-2.4">nd</tspan></text>
<circle cx="50.3" cy="228.4" r="1.9" fill="#f01212"/>
<circle cx="55.9" cy="228.4" r="1.9" fill="#f01212"/>
<circle cx="61.5" cy="228.4" r="1.9" fill="#f01212"/>
<text transform="translate(66.5,232.9) scale(0.9,1)" font-size="12.2">1<tspan font-size="9.3" dx="0.5" dy="-2.4">st</tspan></text>
<circle cx="94.7" cy="228.4" r="1.9" fill="#fcc700"/>
<circle cx="100.3" cy="228.4" r="1.9" fill="#fcc700"/>
<circle cx="105.9" cy="228.4" r="1.9" fill="#fcc700"/>
<text transform="translate(110.9,232.9) scale(0.9,1)" font-size="12.2">3<tspan font-size="9.3" dx="0.5" dy="-2.4">rd</tspan></text>
<text x="55.6" y="254.5" text-anchor="middle" font-size="16.4" font-weight="bold">(d)</text></g>
<g><path d="M219.5,187.8H361V323.8" fill="none" stroke="#959595" stroke-width="1.5"/>
<path d="M219.5,187.2V323.8H361.6" fill="none" stroke="#707070" stroke-width="1.2"/>
<path d="M216.5,323.8H219.5M216.5,296.6H219.5M216.5,269.4H219.5M216.5,242.2H219.5M216.5,215H219.5M216.5,187.8H219.5M217.5,310.2H219.5M217.5,283H219.5M217.5,255.8H219.5M217.5,228.6H219.5M217.5,201.4H219.5M219.5,323.8V326.8M233.65,323.8V326.8M247.8,323.8V326.8M261.95,323.8V326.8M276.1,323.8V326.8M290.25,323.8V326.8M304.4,323.8V326.8M318.55,323.8V326.8M332.7,323.8V326.8M346.85,323.8V326.8M361,323.8V326.8" stroke="#707070" stroke-width="1" fill="none"/>
<text x="215.5" y="327.8" text-anchor="end" font-size="10">0</text>
<text x="215.5" y="300.6" text-anchor="end" font-size="10">2</text>
<text x="215.5" y="273.4" text-anchor="end" font-size="10">4</text>
<text x="215.5" y="246.2" text-anchor="end" font-size="10">6</text>
<text x="215.5" y="219" text-anchor="end" font-size="10">8</text>
<text x="215.5" y="191.8" text-anchor="end" font-size="10">10</text>
<text x="219.5" y="337.6" text-anchor="middle" font-size="10">2</text>
<text x="233.65" y="337.6" text-anchor="middle" font-size="10">3</text>
<text x="247.8" y="337.6" text-anchor="middle" font-size="10">4</text>
<text x="261.95" y="337.6" text-anchor="middle" font-size="10">5</text>
<text x="276.1" y="337.6" text-anchor="middle" font-size="10">6</text>
<text x="290.25" y="337.6" text-anchor="middle" font-size="10">7</text>
<text x="304.4" y="337.6" text-anchor="middle" font-size="10">8</text>
<text x="318.55" y="337.6" text-anchor="middle" font-size="10">9</text>
<text x="332.7" y="337.6" text-anchor="middle" font-size="10">10</text>
<text x="346.85" y="337.6" text-anchor="middle" font-size="10">11</text>
<text x="361" y="337.6" text-anchor="middle" font-size="10">12</text>
<text x="290.25" y="350.6" text-anchor="middle" font-size="12" font-weight="bold">Numbers of QWs</text>
<text transform="translate(200.3,255.8) rotate(-90)" text-anchor="middle" font-size="12"><tspan font-weight="bold">PC confinement factor </tspan><tspan>(%)</tspan></text>
<path d="M219.5,315.91 C221.86,315.73 228.93,315.35 233.65,314.82 C238.37,314.3 243.08,313.62 247.8,312.78 C252.52,311.95 257.23,310.86 261.95,309.79 C266.67,308.73 271.38,307.66 276.1,306.39 C280.82,305.12 285.53,303.72 290.25,302.18 C294.97,300.63 299.68,298.8 304.4,297.14 C309.12,295.49 313.83,293.77 318.55,292.25 C323.27,290.73 327.98,289.19 332.7,288.03 C337.42,286.88 342.13,285.99 346.85,285.31 C351.57,284.63 358.64,284.18 361,283.95" stroke="#1515e8" stroke-width="1.6" fill="none"/>
<circle cx="219.5" cy="315.91" r="1.9" fill="#1515e8"/>
<circle cx="233.65" cy="314.82" r="1.9" fill="#1515e8"/>
<circle cx="247.8" cy="312.78" r="1.9" fill="#1515e8"/>
<circle cx="261.95" cy="309.79" r="1.9" fill="#1515e8"/>
<circle cx="276.1" cy="306.39" r="1.9" fill="#1515e8"/>
<circle cx="290.25" cy="302.18" r="1.9" fill="#1515e8"/>
<circle cx="304.4" cy="297.14" r="1.9" fill="#1515e8"/>
<circle cx="318.55" cy="292.25" r="1.9" fill="#1515e8"/>
<circle cx="332.7" cy="288.03" r="1.9" fill="#1515e8"/>
<circle cx="346.85" cy="285.31" r="1.9" fill="#1515e8"/>
<circle cx="361" cy="283.95" r="1.9" fill="#1515e8"/>
<path d="M219.5,294.56 C221.86,294.08 228.93,292.54 233.65,291.7 C238.37,290.87 243.08,290.12 247.8,289.53 C252.52,288.94 257.23,288.39 261.95,288.17 C266.67,287.94 271.38,287.85 276.1,288.17 C280.82,288.49 285.53,289.14 290.25,290.07 C294.97,291 299.68,292.38 304.4,293.74 C309.12,295.1 313.83,296.67 318.55,298.23 C323.27,299.8 327.98,301.63 332.7,303.13 C337.42,304.62 342.13,305.98 346.85,307.21 C351.57,308.43 358.64,309.93 361,310.47" stroke="#f01212" stroke-width="1.6" fill="none"/>
<circle cx="219.5" cy="294.56" r="1.9" fill="#f01212"/>
<circle cx="233.65" cy="291.7" r="1.9" fill="#f01212"/>
<circle cx="247.8" cy="289.53" r="1.9" fill="#f01212"/>
<circle cx="261.95" cy="288.17" r="1.9" fill="#f01212"/>
<circle cx="276.1" cy="288.17" r="1.9" fill="#f01212"/>
<circle cx="290.25" cy="290.07" r="1.9" fill="#f01212"/>
<circle cx="304.4" cy="293.74" r="1.9" fill="#f01212"/>
<circle cx="318.55" cy="298.23" r="1.9" fill="#f01212"/>
<circle cx="332.7" cy="303.13" r="1.9" fill="#f01212"/>
<circle cx="346.85" cy="307.21" r="1.9" fill="#f01212"/>
<circle cx="361" cy="310.47" r="1.9" fill="#f01212"/>
<path d="M219.5,262.06 C221.86,262.17 228.93,262.24 233.65,262.74 C238.37,263.23 243.08,263.98 247.8,265.05 C252.52,266.11 257.23,267.61 261.95,269.13 C266.67,270.65 271.38,272.41 276.1,274.16 C280.82,275.91 285.53,277.7 290.25,279.6 C294.97,281.5 299.68,283.79 304.4,285.58 C309.12,287.37 313.83,288.87 318.55,290.34 C323.27,291.82 327.98,293.15 332.7,294.42 C337.42,295.69 342.13,296.92 346.85,297.96 C351.57,299 358.64,300.23 361,300.68" stroke="#0b9435" stroke-width="1.6" fill="none"/>
<circle cx="219.5" cy="262.06" r="1.9" fill="#0b9435"/>
<circle cx="233.65" cy="262.74" r="1.9" fill="#0b9435"/>
<circle cx="247.8" cy="265.05" r="1.9" fill="#0b9435"/>
<circle cx="261.95" cy="269.13" r="1.9" fill="#0b9435"/>
<circle cx="276.1" cy="274.16" r="1.9" fill="#0b9435"/>
<circle cx="290.25" cy="279.6" r="1.9" fill="#0b9435"/>
<circle cx="304.4" cy="285.58" r="1.9" fill="#0b9435"/>
<circle cx="318.55" cy="290.34" r="1.9" fill="#0b9435"/>
<circle cx="332.7" cy="294.42" r="1.9" fill="#0b9435"/>
<circle cx="346.85" cy="297.96" r="1.9" fill="#0b9435"/>
<circle cx="361" cy="300.68" r="1.9" fill="#0b9435"/>
<path d="M219.5,219.08 C221.86,220.53 228.93,224.88 233.65,227.78 C238.37,230.69 243.08,233.5 247.8,236.49 C252.52,239.48 257.23,242.79 261.95,245.74 C266.67,248.68 271.38,251.54 276.1,254.17 C280.82,256.8 285.53,259.29 290.25,261.51 C294.97,263.73 299.68,265.77 304.4,267.5 C309.12,269.22 313.83,270.58 318.55,271.85 C323.27,273.12 327.98,274.14 332.7,275.11 C337.42,276.09 342.13,276.99 346.85,277.7 C351.57,278.4 358.64,279.06 361,279.33" stroke="#fcc700" stroke-width="1.6" fill="none"/>
<circle cx="219.5" cy="219.08" r="1.9" fill="#fcc700"/>
<circle cx="233.65" cy="227.78" r="1.9" fill="#fcc700"/>
<circle cx="247.8" cy="236.49" r="1.9" fill="#fcc700"/>
<circle cx="261.95" cy="245.74" r="1.9" fill="#fcc700"/>
<circle cx="276.1" cy="254.17" r="1.9" fill="#fcc700"/>
<circle cx="290.25" cy="261.51" r="1.9" fill="#fcc700"/>
<circle cx="304.4" cy="267.5" r="1.9" fill="#fcc700"/>
<circle cx="318.55" cy="271.85" r="1.9" fill="#fcc700"/>
<circle cx="332.7" cy="275.11" r="1.9" fill="#fcc700"/>
<circle cx="346.85" cy="277.7" r="1.9" fill="#fcc700"/>
<circle cx="361" cy="279.33" r="1.9" fill="#fcc700"/>
<text x="263.1" y="201.8" font-size="11.2" font-weight="bold">n-GaN = 920nm</text>
<circle cx="265.6" cy="212.1" r="1.9" fill="#1515e8"/>
<circle cx="271.2" cy="212.1" r="1.9" fill="#1515e8"/>
<circle cx="276.8" cy="212.1" r="1.9" fill="#1515e8"/>
<text transform="translate(281.8,216.6) scale(0.9,1)" font-size="12.2">0<tspan font-size="9.3" dx="0.5" dy="-2.4">th</tspan></text>
<circle cx="310" cy="212.1" r="1.9" fill="#0b9435"/>
<circle cx="315.6" cy="212.1" r="1.9" fill="#0b9435"/>
<circle cx="321.2" cy="212.1" r="1.9" fill="#0b9435"/>
<text transform="translate(326.2,216.6) scale(0.9,1)" font-size="12.2">2<tspan font-size="9.3" dx="0.5" dy="-2.4">nd</tspan></text>
<circle cx="265.6" cy="228.4" r="1.9" fill="#f01212"/>
<circle cx="271.2" cy="228.4" r="1.9" fill="#f01212"/>
<circle cx="276.8" cy="228.4" r="1.9" fill="#f01212"/>
<text transform="translate(281.8,232.9) scale(0.9,1)" font-size="12.2">1<tspan font-size="9.3" dx="0.5" dy="-2.4">st</tspan></text>
<circle cx="310" cy="228.4" r="1.9" fill="#fcc700"/>
<circle cx="315.6" cy="228.4" r="1.9" fill="#fcc700"/>
<circle cx="321.2" cy="228.4" r="1.9" fill="#fcc700"/>
<text transform="translate(326.2,232.9) scale(0.9,1)" font-size="12.2">3<tspan font-size="9.3" dx="0.5" dy="-2.4">rd</tspan></text>
<text x="239.1" y="207" text-anchor="middle" font-size="16.4" font-weight="bold">(e)</text></g>
<g><path d="M397.7,187.8H539.5V323.8" fill="none" stroke="#959595" stroke-width="1.5"/>
<path d="M397.7,187.2V323.8H540.1" fill="none" stroke="#707070" stroke-width="1.2"/>
<path d="M394.7,323.8H397.7M394.7,301.13H397.7M394.7,278.47H397.7M394.7,255.8H397.7M394.7,233.13H397.7M394.7,210.47H397.7M394.7,187.8H397.7M395.7,312.47H397.7M395.7,289.8H397.7M395.7,267.13H397.7M395.7,244.47H397.7M395.7,221.8H397.7M395.7,199.13H397.7M397.7,323.8V326.8M411.88,323.8V326.8M426.06,323.8V326.8M440.24,323.8V326.8M454.42,323.8V326.8M468.6,323.8V326.8M482.78,323.8V326.8M496.96,323.8V326.8M511.14,323.8V326.8M525.32,323.8V326.8M539.5,323.8V326.8" stroke="#707070" stroke-width="1" fill="none"/>
<text x="393.7" y="327.8" text-anchor="end" font-size="10">0</text>
<text x="393.7" y="305.13" text-anchor="end" font-size="10">5</text>
<text x="393.7" y="282.47" text-anchor="end" font-size="10">10</text>
<text x="393.7" y="259.8" text-anchor="end" font-size="10">15</text>
<text x="393.7" y="237.13" text-anchor="end" font-size="10">20</text>
<text x="393.7" y="214.47" text-anchor="end" font-size="10">25</text>
<text x="393.7" y="191.8" text-anchor="end" font-size="10">30</text>
<text x="397.7" y="337.6" text-anchor="middle" font-size="10">2</text>
<text x="411.88" y="337.6" text-anchor="middle" font-size="10">3</text>
<text x="426.06" y="337.6" text-anchor="middle" font-size="10">4</text>
<text x="440.24" y="337.6" text-anchor="middle" font-size="10">5</text>
<text x="454.42" y="337.6" text-anchor="middle" font-size="10">6</text>
<text x="468.6" y="337.6" text-anchor="middle" font-size="10">7</text>
<text x="482.78" y="337.6" text-anchor="middle" font-size="10">8</text>
<text x="496.96" y="337.6" text-anchor="middle" font-size="10">9</text>
<text x="511.14" y="337.6" text-anchor="middle" font-size="10">10</text>
<text x="525.32" y="337.6" text-anchor="middle" font-size="10">11</text>
<text x="539.5" y="337.6" text-anchor="middle" font-size="10">12</text>
<text x="468.6" y="350.6" text-anchor="middle" font-size="12" font-weight="bold">Numbers of QWs</text>
<text transform="translate(378.5,255) rotate(-90)" text-anchor="middle" font-size="12"><tspan font-weight="bold">QW × PC </tspan><tspan>(%</tspan><tspan font-size="9.6" dy="-3.6">2</tspan><tspan dy="3.6">)</tspan></text>
<path d="M397.7,323.48 C400.06,323.35 407.15,322.94 411.88,322.67 C416.61,322.39 421.33,322.3 426.06,321.85 C430.79,321.4 435.51,321.03 440.24,319.95 C444.97,318.87 449.69,317.54 454.42,315.37 C459.15,313.2 463.87,310.71 468.6,306.94 C473.33,303.17 478.05,298.54 482.78,292.75 C487.51,286.95 492.23,279.83 496.96,272.17 C501.69,264.5 506.41,255.28 511.14,246.73 C515.87,238.19 520.59,229.11 525.32,220.89 C530.05,212.68 537.14,201.36 539.5,197.46" stroke="#1515e8" stroke-width="1.6" fill="none"/>
<circle cx="397.7" cy="323.48" r="1.9" fill="#1515e8"/>
<circle cx="411.88" cy="322.67" r="1.9" fill="#1515e8"/>
<circle cx="426.06" cy="321.85" r="1.9" fill="#1515e8"/>
<circle cx="440.24" cy="319.95" r="1.9" fill="#1515e8"/>
<circle cx="454.42" cy="315.37" r="1.9" fill="#1515e8"/>
<circle cx="468.6" cy="306.94" r="1.9" fill="#1515e8"/>
<circle cx="482.78" cy="292.75" r="1.9" fill="#1515e8"/>
<circle cx="496.96" cy="272.17" r="1.9" fill="#1515e8"/>
<circle cx="511.14" cy="246.73" r="1.9" fill="#1515e8"/>
<circle cx="525.32" cy="220.89" r="1.9" fill="#1515e8"/>
<circle cx="539.5" cy="197.46" r="1.9" fill="#1515e8"/>
<path d="M397.7,318.63 C400.06,317.77 407.15,315.5 411.88,313.46 C416.61,311.43 421.33,308.86 426.06,306.44 C430.79,304.02 435.51,301.34 440.24,298.96 C444.97,296.58 449.69,293.76 454.42,292.16 C459.15,290.56 463.87,289.5 468.6,289.35 C473.33,289.2 478.05,290.06 482.78,291.25 C487.51,292.44 492.23,294.48 496.96,296.51 C501.69,298.53 506.41,301.25 511.14,303.4 C515.87,305.55 520.59,307.61 525.32,309.38 C530.05,311.16 537.14,313.28 539.5,314.05" stroke="#f01212" stroke-width="1.6" fill="none"/>
<circle cx="397.7" cy="318.63" r="1.9" fill="#f01212"/>
<circle cx="411.88" cy="313.46" r="1.9" fill="#f01212"/>
<circle cx="426.06" cy="306.44" r="1.9" fill="#f01212"/>
<circle cx="440.24" cy="298.96" r="1.9" fill="#f01212"/>
<circle cx="454.42" cy="292.16" r="1.9" fill="#f01212"/>
<circle cx="468.6" cy="289.35" r="1.9" fill="#f01212"/>
<circle cx="482.78" cy="291.25" r="1.9" fill="#f01212"/>
<circle cx="496.96" cy="296.51" r="1.9" fill="#f01212"/>
<circle cx="511.14" cy="303.4" r="1.9" fill="#f01212"/>
<circle cx="525.32" cy="309.38" r="1.9" fill="#f01212"/>
<circle cx="539.5" cy="314.05" r="1.9" fill="#f01212"/>
<path d="M397.7,305.35 C400.06,303.57 407.15,297.92 411.88,294.7 C416.61,291.47 421.33,288.22 426.06,285.99 C430.79,283.76 435.51,282.15 440.24,281.32 C444.97,280.49 449.69,280.57 454.42,281.01 C459.15,281.44 463.87,282.57 468.6,283.91 C473.33,285.24 478.05,287.37 482.78,289.03 C487.51,290.69 492.23,292.26 496.96,293.88 C501.69,295.5 506.41,297.24 511.14,298.73 C515.87,300.22 520.59,301.54 525.32,302.81 C530.05,304.08 537.14,305.76 539.5,306.35" stroke="#0b9435" stroke-width="1.6" fill="none"/>
<circle cx="397.7" cy="305.35" r="1.9" fill="#0b9435"/>
<circle cx="411.88" cy="294.7" r="1.9" fill="#0b9435"/>
<circle cx="426.06" cy="285.99" r="1.9" fill="#0b9435"/>
<circle cx="440.24" cy="281.32" r="1.9" fill="#0b9435"/>
<circle cx="454.42" cy="281.01" r="1.9" fill="#0b9435"/>
<circle cx="468.6" cy="283.91" r="1.9" fill="#0b9435"/>
<circle cx="482.78" cy="289.03" r="1.9" fill="#0b9435"/>
<circle cx="496.96" cy="293.88" r="1.9" fill="#0b9435"/>
<circle cx="511.14" cy="298.73" r="1.9" fill="#0b9435"/>
<circle cx="525.32" cy="302.81" r="1.9" fill="#0b9435"/>
<circle cx="539.5" cy="306.35" r="1.9" fill="#0b9435"/>
<path d="M397.7,289.12 C400.06,287.31 407.15,280.91 411.88,278.29 C416.61,275.66 421.33,274.21 426.06,273.39 C430.79,272.57 435.51,272.93 440.24,273.39 C444.97,273.85 449.69,274.98 454.42,276.15 C459.15,277.33 463.87,279.02 468.6,280.42 C473.33,281.81 478.05,283.11 482.78,284.54 C487.51,285.98 492.23,287.76 496.96,289.03 C501.69,290.3 506.41,291.31 511.14,292.16 C515.87,293 520.59,293.56 525.32,294.11 C530.05,294.65 537.14,295.2 539.5,295.42" stroke="#fcc700" stroke-width="1.6" fill="none"/>
<circle cx="397.7" cy="289.12" r="1.9" fill="#fcc700"/>
<circle cx="411.88" cy="278.29" r="1.9" fill="#fcc700"/>
<circle cx="426.06" cy="273.39" r="1.9" fill="#fcc700"/>
<circle cx="440.24" cy="273.39" r="1.9" fill="#fcc700"/>
<circle cx="454.42" cy="276.15" r="1.9" fill="#fcc700"/>
<circle cx="468.6" cy="280.42" r="1.9" fill="#fcc700"/>
<circle cx="482.78" cy="284.54" r="1.9" fill="#fcc700"/>
<circle cx="496.96" cy="289.03" r="1.9" fill="#fcc700"/>
<circle cx="511.14" cy="292.16" r="1.9" fill="#fcc700"/>
<circle cx="525.32" cy="294.11" r="1.9" fill="#fcc700"/>
<circle cx="539.5" cy="295.42" r="1.9" fill="#fcc700"/>
<text x="407" y="201.8" font-size="11.2" font-weight="bold">n-GaN = 920nm</text>
<circle cx="409.5" cy="212.1" r="1.9" fill="#1515e8"/>
<circle cx="415.1" cy="212.1" r="1.9" fill="#1515e8"/>
<circle cx="420.7" cy="212.1" r="1.9" fill="#1515e8"/>
<text transform="translate(425.7,216.6) scale(0.9,1)" font-size="12.2">0<tspan font-size="9.3" dx="0.5" dy="-2.4">th</tspan></text>
<circle cx="453.9" cy="212.1" r="1.9" fill="#0b9435"/>
<circle cx="459.5" cy="212.1" r="1.9" fill="#0b9435"/>
<circle cx="465.1" cy="212.1" r="1.9" fill="#0b9435"/>
<text transform="translate(470.1,216.6) scale(0.9,1)" font-size="12.2">2<tspan font-size="9.3" dx="0.5" dy="-2.4">nd</tspan></text>
<circle cx="409.5" cy="228.4" r="1.9" fill="#f01212"/>
<circle cx="415.1" cy="228.4" r="1.9" fill="#f01212"/>
<circle cx="420.7" cy="228.4" r="1.9" fill="#f01212"/>
<text transform="translate(425.7,232.9) scale(0.9,1)" font-size="12.2">1<tspan font-size="9.3" dx="0.5" dy="-2.4">st</tspan></text>
<circle cx="453.9" cy="228.4" r="1.9" fill="#fcc700"/>
<circle cx="459.5" cy="228.4" r="1.9" fill="#fcc700"/>
<circle cx="465.1" cy="228.4" r="1.9" fill="#fcc700"/>
<text transform="translate(470.1,232.9) scale(0.9,1)" font-size="12.2">3<tspan font-size="9.3" dx="0.5" dy="-2.4">rd</tspan></text>
<text x="518.7" y="207.3" text-anchor="middle" font-size="16.4" font-weight="bold">(f)</text></g>
</svg>
</body></html>
